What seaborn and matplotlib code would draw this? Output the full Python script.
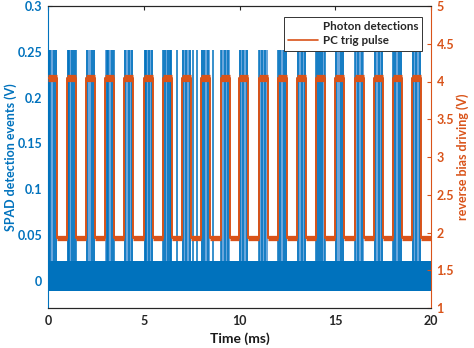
import numpy as np
import pandas as pd
import matplotlib
matplotlib.use("Agg")
import matplotlib.pyplot as plt
from matplotlib.lines import Line2D
import seaborn as sns

# ---------------- data ----------------
# PC trigger pulse (right axis, V)
pulse_rise = [0.0, 1.0, 2.0, 3.0, 3.99, 5.0, 6.01, 7.0, 8.01, 9.01,
              9.99, 11.0, 12.01, 13.0, 14.01, 15.0, 16.01, 17.0, 18.02, 19.01]
pulse_width = 0.47          # ms
pulse_high = 4.04           # V
pulse_low = 1.925           # V
t_end = 20.0

# SPAD detection events (left axis, V)
noise_band = [-0.011, 0.021]          # dense noise floor around 0 V
spike_peak = 0.252                    # height of photon detection spikes
spike_times = [
    0.05, 0.12, 0.30, 0.42,
    1.02, 1.10, 1.25, 1.38, 1.45,
    2.05, 2.28, 2.40,
    3.08, 3.15, 3.35, 3.44,
    4.03, 4.22, 4.40,
    5.05, 5.12, 5.30, 5.45,
    6.02, 6.10, 6.25, 6.35, 6.44,
    6.75, 7.05, 7.20, 7.40, 7.55, 7.80,
    8.02, 8.15, 8.35, 8.60,
    9.05, 9.25, 9.42,
    10.05, 10.20, 10.38,
    11.03, 11.15, 11.35,
    12.02, 12.10, 12.30, 12.42,
    13.05, 13.25, 13.40,
    14.02, 14.08, 14.20, 14.33, 14.44,
    15.05, 15.30, 15.42,
    16.05, 16.20, 16.40,
    17.05, 17.30, 17.42,
    18.02, 18.12, 18.35, 18.44,
    19.05, 19.22, 19.40,
]

x_ticks = [0, 5, 10, 15, 20]
left_ticks = [0, 0.05, 0.1, 0.15, 0.2, 0.25, 0.3]
left_ticklabels = ["0", "0.05", "0.1", "0.15", "0.2", "0.25", "0.3"]
right_ticks = [1, 1.5, 2, 2.5, 3, 3.5, 4, 4.5, 5]
right_ticklabels = ["1", "1.5", "2", "2.5", "3", "3.5", "4", "4.5", "5"]

# ---------------- style ----------------
sns.set_style("white")
plt.rcParams["font.family"] = ["Lato", "DejaVu Sans"]
plt.rcParams["font.weight"] = "bold"

BLUE = "#0072BD"
LIGHT_BLUE = "#6AA6DC"
ORANGE = "#D95319"

fig = plt.figure(figsize=(4.74, 3.48), dpi=100)
ax = fig.add_axes([48 / 474, 40 / 348, 383 / 474, 302 / 348])
ax2 = ax.twinx()

# ---------------- blue trace ----------------
for r in pulse_rise:
    ax.fill_between([r, r + pulse_width], noise_band[0], spike_peak,
                    color=LIGHT_BLUE, lw=0, zorder=1)
ax.vlines(spike_times, noise_band[0], spike_peak, color=BLUE, lw=1.1, zorder=2)
ax.fill_between([0, t_end], noise_band[0], noise_band[1], color=BLUE, lw=0, zorder=3)

ax.set_xlim(0, t_end)
ax.set_ylim(-0.03, 0.3)

# ---------------- orange trace ----------------
pts_t, pts_v = [], []
for i, r in enumerate(pulse_rise):
    f = r + pulse_width
    if i == 0 and r == 0:
        pts_t += [r, f, f]
        pts_v += [pulse_high, pulse_high, pulse_low]
    else:
        pts_t += [r, r, f, f]
        pts_v += [pulse_low, pulse_high, pulse_high, pulse_low]
pts_t.append(t_end)
pts_v.append(pulse_low)
df = pd.DataFrame({"t": pts_t, "v": pts_v})
sns.lineplot(data=df, x="t", y="v", ax=ax2, sort=False, estimator=None,
             color=ORANGE, lw=1.4, zorder=4)
hi = ax2.hlines([pulse_high] * len(pulse_rise), pulse_rise,
                [r + pulse_width for r in pulse_rise], color=ORANGE, lw=5.2, zorder=5)
low_starts = [r + pulse_width for r in pulse_rise]
low_ends = pulse_rise[1:] + [t_end]
lo = ax2.hlines([pulse_low] * len(low_starts), low_starts, low_ends,
                color=ORANGE, lw=3.8, zorder=5)
hi.set_capstyle("butt")
lo.set_capstyle("butt")
ax2.set_ylim(1, 5)
ax2.set_xlim(0, t_end)
ax2.set_xlabel("")

# ---------------- axes styling ----------------
ax.set_xticks(x_ticks)
ax.set_xticklabels([str(v) for v in x_ticks])
ax.set_yticks(left_ticks)
ax.set_yticklabels(left_ticklabels)
ax2.set_yticks(right_ticks)
ax2.set_yticklabels(right_ticklabels)

ax.tick_params(axis="x", direction="in", length=3, width=0.8, colors="#262626",
               labelsize=9, pad=5, top=True)
ax.tick_params(axis="y", direction="in", length=3, width=0.8, colors=BLUE,
               labelsize=9, pad=4)
ax2.tick_params(axis="y", direction="in", length=3, width=0.8, colors=ORANGE,
                labelsize=9, pad=4)

for a in (ax, ax2):
    for s in a.spines.values():
        s.set_linewidth(0.8)
ax.spines["left"].set_color(BLUE)
ax.spines["top"].set_color("#262626")
ax.spines["bottom"].set_color("#262626")
ax.spines["right"].set_visible(False)
ax2.spines["right"].set_color(ORANGE)
ax2.spines["left"].set_visible(False)
ax2.spines["top"].set_color("#262626")
ax2.spines["bottom"].set_color("#262626")

ax.set_xlabel("Time (ms)", fontsize=10, fontweight="bold", color="#1a1a1a")
ax.xaxis.set_label_coords(0.5, -0.082)
ax.set_ylabel("SPAD detection events (V)", fontsize=9, fontweight="bold",
              color=BLUE)
ax.yaxis.set_label_coords(-0.08, 0.5)
ax2.set_ylabel("reverse bias driving (V)", fontsize=9, fontweight="bold",
               color=ORANGE, rotation=90)
ax2.yaxis.set_label_coords(1.067, 0.5)

handles = [Line2D([], [], color="white", lw=1.2),
           Line2D([], [], color=ORANGE, lw=1.2)]
leg = ax2.legend(handles, ["Photon detections", "PC trig pulse"],
                 loc="upper right", bbox_to_anchor=(0.977, 0.964),
                 fontsize=8.4, frameon=True, fancybox=False, framealpha=1,
                 edgecolor="#333333", borderpad=0.35, handlelength=2.6,
                 labelspacing=0.3, handletextpad=0.4, borderaxespad=0)
leg.get_frame().set_linewidth(0.7)
leg.set_zorder(10)

fig.savefig("out.png", dpi=100)
